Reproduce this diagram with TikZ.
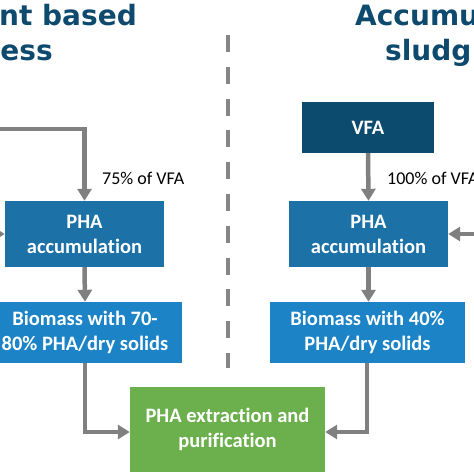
\documentclass[tikz,border=0pt]{standalone}
\usepackage{fontspec}
\setmainfont{Carlito}[Ligatures={NoCommon}]
\newfontfamily\titlefont{DejaVu Sans}
\usetikzlibrary{arrows.meta}
\definecolor{titleblue}{RGB}{14,74,110}
\definecolor{navybox}{RGB}{12,74,110}
\definecolor{phabox}{RGB}{28,113,166}
\definecolor{biobox}{RGB}{28,132,198}
\definecolor{greenbox}{RGB}{108,176,78}
\definecolor{arrgray}{RGB}{128,128,128}
\begin{document}
\begin{tikzpicture}[x=1pt,y=-1pt,
  titletext/.style={inner sep=0pt,text=titleblue,font=\titlefont\bfseries\fontsize{28}{35}\selectfont},
  box/.style={inner sep=0pt,align=center,text=white,font=\bfseries\fontsize{20.5}{25}\selectfont},
  lbl/.style={inner sep=0pt,text=black,font=\fontsize{18}{22}\selectfont},
  arr/.style={draw=arrgray,line width=4.5pt,-{Triangle[width=14pt,length=12pt]}}]
\useasboundingbox (0,0) rectangle (474,474);
\clip (0,0) rectangle (474,474);
\fill[white] (0,0) rectangle (474,474);
% titles
\node[titletext,anchor=base east] (tl1) at (137,25) {nt based};
\node[titletext,anchor=base east] (tl2) at (53,60) {ess};
\node[titletext,anchor=base west] (tr1) at (355,25) {Accumu};
\node[titletext,anchor=base west] (tr2) at (385,60) {sludg};
% dashed divider
\coordinate (d1) at (228,35);
\coordinate (d2) at (228,368);
\draw[arrgray!95,line width=4.5pt,dash pattern=on 17pt off 14.8pt] (d1) -- (d2);
% boxes
\node[box,fill=phabox,minimum width=159pt,minimum height=66pt] (phaL) at (84.5,234) {PHA\\accumulation};
\node[box,fill=phabox,minimum width=159pt,minimum height=66pt] (phaR) at (368.5,234) {PHA\\accumulation};
\node[box,fill=navybox,minimum width=132pt,minimum height=51pt] (vfa) at (368,127.5) {VFA};
\node[box,fill=biobox,minimum width=194pt,minimum height=61pt] (bioL) at (85,332.5) {Biomass with 70-\\80\% PHA/dry solids};
\node[box,fill=biobox,minimum width=195pt,minimum height=61pt] (bioR) at (367.5,332.5) {Biomass with 40\%\\PHA/dry solids};
\node[box,fill=greenbox,minimum width=195pt,minimum height=85pt] (ext) at (227.5,429.5) {PHA extraction and\\purification};
% labels
\node[lbl,anchor=west] (l75) at (102,178) {75\% of VFA};
\node[lbl,anchor=west] (l100) at (387,178) {100\% of VFA};
% connectors
\coordinate (inL) at (-20,129);
\coordinate (sideL) at (-20,234);
\coordinate (sideR) at (490,234);
\coordinate (cL) at (85,432);
\coordinate (cR) at (367,432);
\draw[arr] (inL) -| (phaL.north);
\draw[arr] (sideL) -- (phaL.west);
\draw[arr] (sideR) -- (phaR.east);
\draw[arr] (vfa.south) -- (phaR.north);
\draw[arr] (phaL.south) -- (bioL.north);
\draw[arr] (phaR.south) -- (phaR.south |- bioR.north);
\draw[arr] (bioL.south) |- (ext.west |- cL);
\draw[arr] (bioR.south -| cR) |- (ext.east |- cR);
\end{tikzpicture}
\end{document}
